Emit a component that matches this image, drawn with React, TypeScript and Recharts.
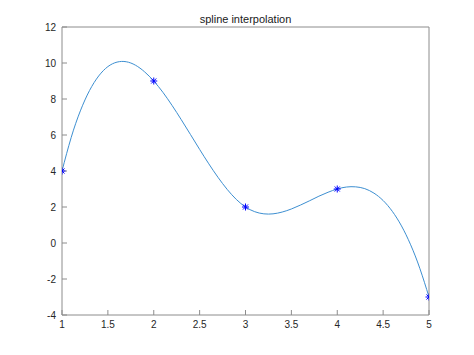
import React from 'react';
import { ComposedChart, Line, Scatter, XAxis, YAxis } from 'recharts';

const knotX = [1, 2, 3, 4, 5];
const knotY = [4, 9, 2, 3, -3];

const curveX = [
  1.0, 1.1, 1.2, 1.3, 1.4, 1.5, 1.6, 1.7, 1.8, 1.9,
  2.0, 2.1, 2.2, 2.3, 2.4, 2.5, 2.6, 2.7, 2.8, 2.9,
  3.0, 3.1, 3.2, 3.3, 3.4, 3.5, 3.6, 3.7, 3.8, 3.9,
  4.0, 4.1, 4.2, 4.3, 4.4, 4.5, 4.6, 4.7, 4.8, 4.9, 5.0,
];
const curveY = [
  4.0, 5.86, 7.34, 8.47, 9.28, 9.8, 10.05, 10.07, 9.88, 9.51,
  9.0, 8.37, 7.64, 6.85, 6.03, 5.2, 4.4, 3.65, 2.98, 2.42,
  2.0, 1.74, 1.62, 1.62, 1.72, 1.89, 2.11, 2.35, 2.6, 2.82,
  3.0, 3.11, 3.12, 3.02, 2.77, 2.36, 1.76, 0.95, -0.1, -1.41, -3.0,
];

const xTicks = [1, 1.5, 2, 2.5, 3, 3.5, 4, 4.5, 5];
const yTicks = [-4, -2, 0, 2, 4, 6, 8, 10, 12];
const titleText = 'spline interpolation';

const curveData = curveX.map((x, i) => ({ x, y: curveY[i] }));
const knotData = knotX.map((x, i) => ({ x, y: knotY[i] }));

const axisColor = '#8c8c8c';
const tickStyle = { fontSize: 10, fill: '#262626', fontFamily: 'Liberation Sans, Arial, sans-serif' };

const Star = (props: any) => {
  const { cx, cy } = props;
  if (cx == null || cy == null) return null;
  const r = 3.5;
  const d = r * 0.72;
  return (
    <g stroke="#0000ff" strokeWidth={1}>
      <line x1={cx - r} y1={cy} x2={cx + r} y2={cy} />
      <line x1={cx} y1={cy - r} x2={cx} y2={cy + r} />
      <line x1={cx - d} y1={cy - d} x2={cx + d} y2={cy + d} />
      <line x1={cx - d} y1={cy + d} x2={cx + d} y2={cy - d} />
    </g>
  );
};

export default function App() {
  return (
    <div style={{ position: 'absolute', left: 0, top: 0, width: 474, height: 355, background: '#ffffff' }}>
      <ComposedChart
        width={474}
        height={355}
        data={curveData}
        margin={{ top: 26, right: 44, bottom: 0, left: 0 }}
      >
        <text
          x={245.5}
          y={23}
          textAnchor="middle"
          style={{ fontSize: 11, fill: '#1a1a1a', fontFamily: 'Liberation Sans, Arial, sans-serif' }}
        >
          {titleText}
        </text>
        <XAxis
          xAxisId="b"
          dataKey="x"
          type="number"
          domain={[1, 5]}
          ticks={xTicks}
          interval={0}
          height={40}
          tickSize={-5}
          tickMargin={11}
          stroke={axisColor}
          tick={tickStyle}
          allowDataOverflow
        />
        <XAxis
          xAxisId="t"
          orientation="top"
          dataKey="x"
          type="number"
          domain={[1, 5]}
          ticks={xTicks}
          interval={0}
          height={1}
          tickSize={-5}
          tick={false}
          stroke={axisColor}
          allowDataOverflow
        />
        <YAxis
          yAxisId="l"
          dataKey="y"
          type="number"
          domain={[-4, 12]}
          ticks={yTicks}
          interval={0}
          width={62}
          tickSize={-5}
          tickMargin={11}
          stroke={axisColor}
          tick={tickStyle}
          allowDataOverflow
        />
        <YAxis
          yAxisId="r"
          orientation="right"
          dataKey="y"
          type="number"
          domain={[-4, 12]}
          ticks={yTicks}
          interval={0}
          width={1}
          tickSize={-5}
          tick={false}
          stroke={axisColor}
          allowDataOverflow
        />
        <Line
          xAxisId="t"
          yAxisId="r"
          data={knotData}
          dataKey="y"
          stroke="none"
          strokeOpacity={0}
          dot={false}
          activeDot={false}
          legendType="none"
          isAnimationActive={false}
        />
        <Line
          xAxisId="b"
          yAxisId="l"
          data={curveData}
          dataKey="y"
          type="natural"
          stroke="#3d8fd1"
          strokeWidth={1}
          dot={false}
          isAnimationActive={false}
        />
        <Scatter
          xAxisId="b"
          yAxisId="l"
          data={knotData}
          dataKey="y"
          shape={<Star />}
          isAnimationActive={false}
        />
      </ComposedChart>
    </div>
  );
}
